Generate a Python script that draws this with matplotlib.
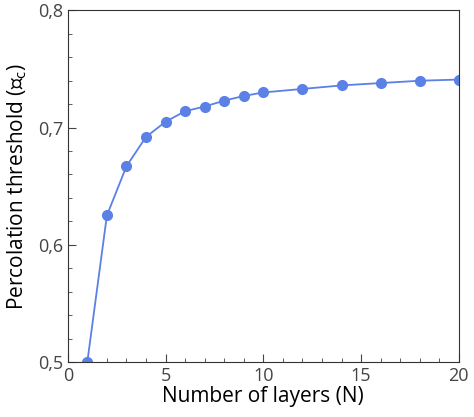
import matplotlib
matplotlib.use("Agg")
import matplotlib.pyplot as plt
from matplotlib.ticker import FuncFormatter, MultipleLocator

# values
layers = [1, 2, 3, 4, 5, 6, 7, 8, 9, 10, 12, 14, 16, 18, 20]
threshold = [0.500, 0.625, 0.667, 0.692, 0.705, 0.714, 0.718, 0.723, 0.727,
             0.730, 0.733, 0.736, 0.738, 0.740, 0.741]

blue = "#5b80e6"

plt.rcParams["font.family"] = ["Open Sans", "DejaVu Sans"]
plt.rcParams["mathtext.default"] = "regular"
fig = plt.figure(figsize=(4.74, 4.17), dpi=100)
ax = fig.add_axes([0.143, 0.132, 0.825, 0.843])

ax.plot(layers, threshold, color=blue, lw=1.3)
ax.plot(layers, threshold, "o", color=blue, ms=7)

ax.set_xlim(0, 20)
ax.set_ylim(0.5, 0.8)
ax.xaxis.set_major_locator(MultipleLocator(5))
ax.xaxis.set_minor_locator(MultipleLocator(1))
ax.yaxis.set_major_locator(MultipleLocator(0.1))
ax.yaxis.set_minor_locator(MultipleLocator(0.02))
ax.yaxis.set_major_formatter(FuncFormatter(lambda v, p: f"{v:.1f}".replace(".", ",")))
ax.tick_params(which="both", direction="in", labelsize=13, colors="#444444")
ax.tick_params(which="major", length=6)
ax.tick_params(which="minor", length=3)
for s in ax.spines.values():
    s.set_color("#333333")

ax.set_xlabel("Number of layers (N)", fontsize=15, labelpad=1)
ax.set_ylabel("Percolation threshold (ϕ$_c$)", fontsize=15, labelpad=6)

fig.savefig("out.png", dpi=100)
